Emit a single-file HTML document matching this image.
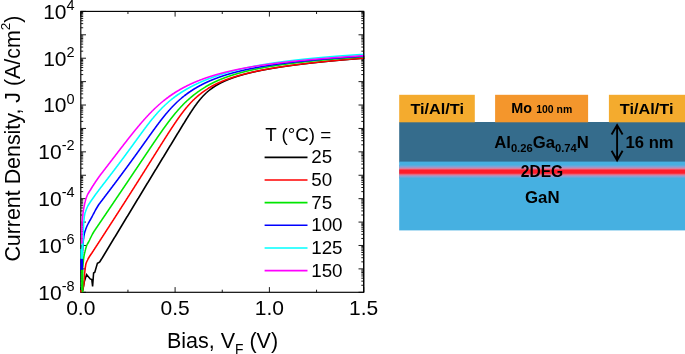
<!DOCTYPE html>
<html><head><meta charset="utf-8"><title>J-V</title>
<style>
html,body{margin:0;padding:0;background:#fff}
svg{display:block}
text{font-family:"Liberation Sans",sans-serif;fill:#000}
.b{font-weight:bold}
</style></head><body>
<svg width="685" height="354" viewBox="0 0 685 354">
<rect width="685" height="354" fill="#fff"/>
<g stroke="#000" stroke-width="1.15" fill="none">
<rect x="80.80" y="11.40" width="282.90" height="280.90"/>
</g>
<path d="M80.80 11.40h5.2M363.70 11.40h-5.2M80.80 27.76h2.4M363.70 27.76h-2.4M80.80 23.64h2.4M363.70 23.64h-2.4M80.80 20.72h2.4M363.70 20.72h-2.4M80.80 18.45h2.4M363.70 18.45h-2.4M80.80 16.59h2.4M363.70 16.59h-2.4M80.80 15.03h2.4M363.70 15.03h-2.4M80.80 13.67h2.4M363.70 13.67h-2.4M80.80 12.47h2.4M363.70 12.47h-2.4M80.80 34.81h5.2M363.70 34.81h-5.2M80.80 51.17h2.4M363.70 51.17h-2.4M80.80 47.05h2.4M363.70 47.05h-2.4M80.80 44.12h2.4M363.70 44.12h-2.4M80.80 41.85h2.4M363.70 41.85h-2.4M80.80 40.00h2.4M363.70 40.00h-2.4M80.80 38.43h2.4M363.70 38.43h-2.4M80.80 37.08h2.4M363.70 37.08h-2.4M80.80 35.88h2.4M363.70 35.88h-2.4M80.80 58.22h5.2M363.70 58.22h-5.2M80.80 74.58h2.4M363.70 74.58h-2.4M80.80 70.46h2.4M363.70 70.46h-2.4M80.80 67.53h2.4M363.70 67.53h-2.4M80.80 65.26h2.4M363.70 65.26h-2.4M80.80 63.41h2.4M363.70 63.41h-2.4M80.80 61.84h2.4M363.70 61.84h-2.4M80.80 60.49h2.4M363.70 60.49h-2.4M80.80 59.29h2.4M363.70 59.29h-2.4M80.80 81.63h5.2M363.70 81.63h-5.2M80.80 97.99h2.4M363.70 97.99h-2.4M80.80 93.86h2.4M363.70 93.86h-2.4M80.80 90.94h2.4M363.70 90.94h-2.4M80.80 88.67h2.4M363.70 88.67h-2.4M80.80 86.82h2.4M363.70 86.82h-2.4M80.80 85.25h2.4M363.70 85.25h-2.4M80.80 83.89h2.4M363.70 83.89h-2.4M80.80 82.70h2.4M363.70 82.70h-2.4M80.80 105.03h5.2M363.70 105.03h-5.2M80.80 121.40h2.4M363.70 121.40h-2.4M80.80 117.27h2.4M363.70 117.27h-2.4M80.80 114.35h2.4M363.70 114.35h-2.4M80.80 112.08h2.4M363.70 112.08h-2.4M80.80 110.23h2.4M363.70 110.23h-2.4M80.80 108.66h2.4M363.70 108.66h-2.4M80.80 107.30h2.4M363.70 107.30h-2.4M80.80 106.10h2.4M363.70 106.10h-2.4M80.80 128.44h5.2M363.70 128.44h-5.2M80.80 144.80h2.4M363.70 144.80h-2.4M80.80 140.68h2.4M363.70 140.68h-2.4M80.80 137.76h2.4M363.70 137.76h-2.4M80.80 135.49h2.4M363.70 135.49h-2.4M80.80 133.63h2.4M363.70 133.63h-2.4M80.80 132.07h2.4M363.70 132.07h-2.4M80.80 130.71h2.4M363.70 130.71h-2.4M80.80 129.51h2.4M363.70 129.51h-2.4M80.80 151.85h5.2M363.70 151.85h-5.2M80.80 168.21h2.4M363.70 168.21h-2.4M80.80 164.09h2.4M363.70 164.09h-2.4M80.80 161.17h2.4M363.70 161.17h-2.4M80.80 158.90h2.4M363.70 158.90h-2.4M80.80 157.04h2.4M363.70 157.04h-2.4M80.80 155.48h2.4M363.70 155.48h-2.4M80.80 154.12h2.4M363.70 154.12h-2.4M80.80 152.92h2.4M363.70 152.92h-2.4M80.80 175.26h5.2M363.70 175.26h-5.2M80.80 191.62h2.4M363.70 191.62h-2.4M80.80 187.50h2.4M363.70 187.50h-2.4M80.80 184.57h2.4M363.70 184.57h-2.4M80.80 182.30h2.4M363.70 182.30h-2.4M80.80 180.45h2.4M363.70 180.45h-2.4M80.80 178.88h2.4M363.70 178.88h-2.4M80.80 177.53h2.4M363.70 177.53h-2.4M80.80 176.33h2.4M363.70 176.33h-2.4M80.80 198.67h5.2M363.70 198.67h-5.2M80.80 215.03h2.4M363.70 215.03h-2.4M80.80 210.91h2.4M363.70 210.91h-2.4M80.80 207.98h2.4M363.70 207.98h-2.4M80.80 205.71h2.4M363.70 205.71h-2.4M80.80 203.86h2.4M363.70 203.86h-2.4M80.80 202.29h2.4M363.70 202.29h-2.4M80.80 200.94h2.4M363.70 200.94h-2.4M80.80 199.74h2.4M363.70 199.74h-2.4M80.80 222.08h5.2M363.70 222.08h-5.2M80.80 238.44h2.4M363.70 238.44h-2.4M80.80 234.31h2.4M363.70 234.31h-2.4M80.80 231.39h2.4M363.70 231.39h-2.4M80.80 229.12h2.4M363.70 229.12h-2.4M80.80 227.27h2.4M363.70 227.27h-2.4M80.80 225.70h2.4M363.70 225.70h-2.4M80.80 224.34h2.4M363.70 224.34h-2.4M80.80 223.15h2.4M363.70 223.15h-2.4M80.80 245.48h5.2M363.70 245.48h-5.2M80.80 261.85h2.4M363.70 261.85h-2.4M80.80 257.72h2.4M363.70 257.72h-2.4M80.80 254.80h2.4M363.70 254.80h-2.4M80.80 252.53h2.4M363.70 252.53h-2.4M80.80 250.68h2.4M363.70 250.68h-2.4M80.80 249.11h2.4M363.70 249.11h-2.4M80.80 247.75h2.4M363.70 247.75h-2.4M80.80 246.55h2.4M363.70 246.55h-2.4M80.80 268.89h5.2M363.70 268.89h-5.2M80.80 285.25h2.4M363.70 285.25h-2.4M80.80 281.13h2.4M363.70 281.13h-2.4M80.80 278.21h2.4M363.70 278.21h-2.4M80.80 275.94h2.4M363.70 275.94h-2.4M80.80 274.08h2.4M363.70 274.08h-2.4M80.80 272.52h2.4M363.70 272.52h-2.4M80.80 271.16h2.4M363.70 271.16h-2.4M80.80 269.96h2.4M363.70 269.96h-2.4M80.80 292.30h5.2M363.70 292.30h-5.2M80.80 292.30v-5.2M80.80 11.40v5.2M127.95 292.30v-2.6M127.95 11.40v2.6M175.10 292.30v-5.2M175.10 11.40v5.2M222.25 292.30v-2.6M222.25 11.40v2.6M269.40 292.30v-5.2M269.40 11.40v5.2M316.55 292.30v-2.6M316.55 11.40v2.6M363.70 292.30v-5.2M363.70 11.40v5.2" stroke="#000" stroke-width="0.9" fill="none"/>
<g fill="none" stroke-width="1.55" stroke-linejoin="round" stroke-linecap="butt" clip-path="url(#cp)">
<clipPath id="cp"><rect x="79.8" y="11.4" width="284.5" height="281.4"/></clipPath>
<path d="M82.6 291.0 L83.2 288.0 L84.2 282.0 L86.6 274.5 L90.2 278.9 L91.8 279.6 L92.6 286.4 L93.6 273.0 L94.8 272.2 L97.4 263.2 L98.9 262.5 L99.7 262.0 L100.0 261.5 L100.3 261.0 L100.6 260.5 L100.9 260.0 L101.2 259.5 L101.5 259.0 L101.9 258.5 L102.2 258.0 L102.5 257.5 L102.8 257.0 L103.1 256.5 L103.4 256.0 L103.7 255.5 L104.0 255.0 L104.3 254.5 L104.6 254.0 L104.9 253.5 L105.2 253.0 L105.5 252.5 L105.8 252.0 L106.1 251.5 L106.4 251.0 L106.7 250.5 L107.0 250.0 L107.3 249.5 L107.6 249.0 L107.9 248.5 L108.2 248.0 L108.5 247.5 L108.8 247.0 L109.1 246.5 L109.4 246.0 L109.7 245.5 L110.0 245.0 L110.3 244.5 L110.6 244.0 L110.9 243.5 L111.2 243.0 L111.5 242.5 L111.8 242.0 L112.1 241.5 L112.4 241.0 L112.7 240.5 L113.0 240.0 L113.3 239.5 L113.6 239.0 L113.9 238.5 L114.2 238.0 L114.5 237.5 L114.8 237.0 L115.2 236.5 L115.5 236.0 L115.8 235.5 L116.1 235.0 L116.4 234.5 L116.7 234.0 L117.0 233.5 L117.3 233.0 L117.6 232.5 L117.9 232.0 L118.2 231.5 L118.5 231.0 L118.8 230.5 L119.1 230.0 L119.4 229.5 L119.7 229.0 L120.0 228.5 L120.3 228.0 L120.6 227.5 L120.9 227.0 L121.2 226.5 L121.5 226.0 L121.8 225.5 L122.1 225.0 L122.4 224.5 L122.7 224.0 L123.0 223.5 L123.3 223.0 L123.6 222.5 L123.9 222.0 L124.2 221.5 L124.5 221.0 L124.8 220.5 L125.1 220.0 L125.4 219.5 L125.7 219.0 L126.0 218.5 L126.3 218.0 L126.6 217.5 L126.9 217.0 L127.2 216.5 L127.6 216.0 L127.9 215.5 L128.2 215.0 L128.5 214.5 L128.8 214.0 L129.1 213.5 L129.4 213.0 L129.7 212.5 L130.0 212.0 L130.3 211.5 L130.6 211.0 L130.9 210.5 L131.2 210.0 L131.5 209.5 L131.8 209.0 L132.1 208.5 L132.4 208.0 L132.7 207.5 L133.0 207.0 L133.3 206.5 L133.6 206.0 L133.9 205.5 L134.2 205.0 L134.5 204.5 L134.8 204.0 L135.1 203.5 L135.4 203.0 L135.7 202.5 L136.0 202.0 L136.3 201.5 L136.6 201.0 L136.9 200.5 L137.2 200.0 L137.5 199.5 L137.8 199.0 L138.1 198.5 L138.5 198.0 L138.8 197.5 L139.1 197.0 L139.4 196.5 L139.7 196.0 L140.0 195.5 L140.3 195.0 L140.6 194.5 L140.9 194.0 L141.2 193.5 L141.5 193.0 L141.8 192.5 L142.1 192.0 L142.4 191.5 L142.7 191.0 L143.0 190.5 L143.3 190.0 L143.6 189.5 L143.9 189.0 L144.2 188.5 L144.5 188.0 L144.8 187.5 L145.1 187.0 L145.4 186.5 L145.7 186.0 L146.0 185.5 L146.3 185.0 L146.6 184.5 L146.9 184.0 L147.2 183.5 L147.5 183.0 L147.9 182.5 L148.2 182.0 L148.5 181.5 L148.8 181.0 L149.1 180.5 L149.4 180.0 L149.7 179.5 L150.0 179.0 L150.3 178.5 L150.6 178.0 L150.9 177.5 L151.2 177.0 L151.5 176.5 L151.8 176.0 L152.1 175.5 L152.4 175.0 L152.7 174.5 L153.0 174.0 L153.3 173.5 L153.6 173.0 L153.9 172.5 L154.2 172.0 L154.5 171.5 L154.8 171.0 L155.1 170.5 L155.4 170.0 L155.7 169.5 L156.1 169.0 L156.4 168.5 L156.7 168.0 L157.0 167.5 L157.3 167.0 L157.6 166.5 L157.9 166.0 L158.2 165.5 L158.5 165.0 L158.8 164.5 L159.1 164.0 L159.4 163.5 L159.7 163.0 L160.0 162.5 L160.3 162.0 L160.6 161.5 L160.9 161.0 L161.2 160.5 L161.5 160.0 L161.8 159.5 L162.1 159.0 L162.4 158.5 L162.7 158.0 L163.0 157.5 L163.4 157.0 L163.7 156.5 L164.0 156.0 L164.3 155.5 L164.6 155.0 L164.9 154.5 L165.2 154.0 L165.5 153.5 L165.8 153.0 L166.1 152.5 L166.4 152.0 L166.7 151.5 L167.0 151.0 L167.3 150.5 L167.6 150.0 L167.9 149.5 L168.2 149.0 L168.5 148.5 L168.8 148.0 L169.1 147.5 L169.4 147.0 L169.7 146.5 L170.0 146.0 L170.3 145.5 L170.7 145.0 L171.0 144.5 L171.3 144.0 L171.6 143.5 L171.9 143.0 L172.2 142.5 L172.5 142.0 L172.8 141.5 L173.1 141.0 L173.4 140.5 L173.7 140.0 L174.0 139.5 L174.3 139.0 L174.6 138.5 L174.9 138.0 L175.2 137.5 L175.5 137.0 L175.8 136.5 L176.1 136.0 L176.4 135.5 L176.7 135.0 L177.0 134.5 L177.3 134.0 L177.6 133.5 L177.9 133.0 L178.3 132.5 L178.6 132.0 L178.9 131.5 L179.2 131.0 L179.5 130.5 L179.8 130.0 L180.1 129.5 L180.4 129.0 L180.7 128.5 L181.0 128.0 L181.3 127.5 L181.6 127.0 L181.9 126.5 L182.2 126.0 L182.5 125.5 L182.8 125.0 L183.1 124.5 L183.4 124.0 L183.7 123.5 L184.1 123.0 L184.4 122.5 L184.7 122.0 L185.0 121.5 L185.3 121.0 L185.6 120.5 L185.9 120.0 L186.2 119.5 L186.5 119.0 L186.8 118.5 L187.1 118.0 L187.5 117.5 L187.8 117.0 L188.1 116.5 L188.4 116.0 L188.7 115.5 L189.0 115.0 L189.4 114.5 L189.7 114.0 L190.0 113.5 L190.3 113.0 L190.6 112.5 L191.0 112.0 L191.3 111.5 L191.6 111.0 L192.0 110.5 L192.3 110.0 L192.6 109.5 L193.0 109.0 L193.3 108.5 L193.6 108.0 L194.0 107.5 L194.3 107.0 L194.7 106.5 L195.0 106.0 L195.4 105.5 L195.8 105.0 L196.1 104.5 L196.5 104.0 L196.9 103.5 L197.2 103.0 L197.6 102.5 L198.0 102.0 L198.4 101.5 L198.8 101.0 L199.2 100.5 L199.6 100.0 L200.0 99.5 L200.4 99.0 L200.9 98.5 L201.3 98.0 L201.7 97.5 L202.2 97.0 L202.6 96.5 L203.1 96.0 L203.6 95.5 L204.1 95.0 L204.6 94.5 L205.1 94.0 L205.6 93.5 L206.1 93.0 L206.7 92.5 L207.2 92.0 L207.8 91.5 L208.4 91.0 L209.0 90.5 L209.6 90.0 L210.3 89.5 L210.9 89.0 L211.6 88.5 L212.3 88.0 L213.0 87.5 L213.8 87.0 L214.5 86.5 L215.3 86.0 L216.1 85.5 L217.0 85.0 L217.9 84.5 L218.7 84.0 L219.7 83.5 L220.6 83.0 L221.6 82.5 L222.7 82.0 L223.7 81.5 L224.8 81.0 L226.0 80.5 L227.2 80.0 L228.4 79.5 L229.7 79.0 L231.0 78.5 L232.4 78.0 L233.8 77.5 L235.3 77.0 L236.8 76.5 L238.4 76.0 L240.1 75.5 L241.8 75.0 L243.6 74.5 L245.4 74.0 L247.4 73.5 L249.4 73.0 L251.5 72.5 L253.6 72.0 L255.9 71.5 L258.3 71.0 L260.7 70.5 L263.3 70.0 L265.9 69.5 L268.7 69.0 L271.5 68.5 L274.5 68.0 L277.6 67.5 L280.8 67.0 L284.2 66.5 L287.7 66.0 L291.3 65.5 L295.1 65.0 L299.0 64.5 L303.1 64.0 L307.4 63.5 L311.8 63.0 L316.4 62.5 L321.2 62.0 L326.2 61.5 L331.3 61.0 L336.7 60.5 L342.3 60.0 L348.1 59.5 L354.2 59.0 L360.4 58.5 L366.9 58.0" stroke="#000000" stroke-linejoin="miter" stroke-miterlimit="10"/>
<path d="M82.0 292.0 L82.3 291.0 L82.5 290.0 L82.8 289.0 L83.0 288.0 L83.3 287.0 L83.5 286.0 L83.7 285.0 L83.9 284.0 L84.0 283.0 L84.1 282.0 L84.2 281.0 L84.2 280.0 L84.3 279.0 L84.4 278.0 L84.4 277.0 L84.5 276.0 L84.5 275.0 L84.6 274.0 L84.7 273.0 L84.8 272.0 L84.9 271.0 L85.0 270.0 L85.1 269.0 L85.3 268.0 L85.4 267.0 L85.6 266.0 L85.7 265.0 L85.9 264.0 L86.2 263.0 L86.6 262.0 L87.1 261.0 L87.6 260.0 L88.0 259.0 L88.6 258.0 L89.2 257.0 L89.8 256.0 L90.5 255.0 L91.2 254.0 L91.9 253.0 L92.3 252.3 L92.7 251.8 L93.0 251.3 L93.3 250.8 L93.6 250.3 L94.0 249.8 L94.3 249.3 L94.6 248.8 L94.9 248.3 L95.3 247.8 L95.6 247.3 L95.9 246.8 L96.2 246.3 L96.6 245.8 L96.9 245.3 L97.2 244.8 L97.5 244.3 L97.9 243.8 L98.2 243.3 L98.5 242.8 L98.8 242.3 L99.2 241.8 L99.5 241.3 L99.8 240.8 L100.1 240.3 L100.5 239.8 L100.8 239.3 L101.1 238.8 L101.4 238.3 L101.8 237.8 L102.1 237.3 L102.4 236.8 L102.7 236.3 L103.1 235.8 L103.4 235.3 L103.7 234.8 L104.0 234.3 L104.4 233.8 L104.7 233.3 L105.0 232.8 L105.3 232.3 L105.6 231.8 L106.0 231.3 L106.3 230.8 L106.6 230.3 L106.9 229.8 L107.3 229.3 L107.6 228.8 L107.9 228.3 L108.2 227.8 L108.6 227.3 L108.9 226.8 L109.2 226.3 L109.5 225.8 L109.8 225.3 L110.2 224.8 L110.5 224.3 L110.8 223.8 L111.1 223.3 L111.5 222.8 L111.8 222.3 L112.1 221.8 L112.4 221.3 L112.8 220.8 L113.1 220.3 L113.4 219.8 L113.7 219.3 L114.0 218.8 L114.4 218.3 L114.7 217.8 L115.0 217.3 L115.3 216.8 L115.6 216.3 L116.0 215.8 L116.3 215.3 L116.6 214.8 L116.9 214.3 L117.3 213.8 L117.6 213.3 L117.9 212.8 L118.2 212.3 L118.5 211.8 L118.9 211.3 L119.2 210.8 L119.5 210.3 L119.8 209.8 L120.1 209.3 L120.5 208.8 L120.8 208.3 L121.1 207.8 L121.4 207.3 L121.7 206.8 L122.1 206.3 L122.4 205.8 L122.7 205.3 L123.0 204.8 L123.4 204.3 L123.7 203.8 L124.0 203.3 L124.3 202.8 L124.6 202.3 L125.0 201.8 L125.3 201.3 L125.6 200.8 L125.9 200.3 L126.2 199.8 L126.5 199.3 L126.9 198.8 L127.2 198.3 L127.5 197.8 L127.8 197.3 L128.1 196.8 L128.5 196.3 L128.8 195.8 L129.1 195.3 L129.4 194.8 L129.7 194.3 L130.1 193.8 L130.4 193.3 L130.7 192.8 L131.0 192.3 L131.3 191.8 L131.6 191.3 L132.0 190.8 L132.3 190.3 L132.6 189.8 L132.9 189.3 L133.2 188.8 L133.6 188.3 L133.9 187.8 L134.2 187.3 L134.5 186.8 L134.8 186.3 L135.1 185.8 L135.5 185.3 L135.8 184.8 L136.1 184.3 L136.4 183.8 L136.7 183.3 L137.0 182.8 L137.4 182.3 L137.7 181.8 L138.0 181.3 L138.3 180.8 L138.6 180.3 L138.9 179.8 L139.3 179.3 L139.6 178.8 L139.9 178.3 L140.2 177.8 L140.5 177.3 L140.8 176.8 L141.1 176.3 L141.5 175.8 L141.8 175.3 L142.1 174.8 L142.4 174.3 L142.7 173.8 L143.0 173.3 L143.4 172.8 L143.7 172.3 L144.0 171.8 L144.3 171.3 L144.6 170.8 L144.9 170.3 L145.2 169.8 L145.6 169.3 L145.9 168.8 L146.2 168.3 L146.5 167.8 L146.8 167.3 L147.1 166.8 L147.4 166.3 L147.8 165.8 L148.1 165.3 L148.4 164.8 L148.7 164.3 L149.0 163.8 L149.3 163.3 L149.6 162.8 L150.0 162.3 L150.3 161.8 L150.6 161.3 L150.9 160.8 L151.2 160.3 L151.5 159.8 L151.8 159.3 L152.1 158.8 L152.5 158.3 L152.8 157.8 L153.1 157.3 L153.4 156.8 L153.7 156.3 L154.0 155.8 L154.3 155.3 L154.7 154.8 L155.0 154.3 L155.3 153.8 L155.6 153.3 L155.9 152.8 L156.2 152.3 L156.5 151.8 L156.9 151.3 L157.2 150.8 L157.5 150.3 L157.8 149.8 L158.1 149.3 L158.4 148.8 L158.7 148.3 L159.1 147.8 L159.4 147.3 L159.7 146.8 L160.0 146.3 L160.3 145.8 L160.6 145.3 L160.9 144.8 L161.3 144.3 L161.6 143.8 L161.9 143.3 L162.2 142.8 L162.5 142.3 L162.8 141.8 L163.2 141.3 L163.5 140.8 L163.8 140.3 L164.1 139.8 L164.4 139.3 L164.7 138.8 L165.1 138.3 L165.4 137.8 L165.7 137.3 L166.0 136.8 L166.3 136.3 L166.7 135.8 L167.0 135.3 L167.3 134.8 L167.6 134.3 L167.9 133.8 L168.3 133.3 L168.6 132.8 L168.9 132.3 L169.2 131.8 L169.6 131.3 L169.9 130.8 L170.2 130.3 L170.5 129.8 L170.9 129.3 L171.2 128.8 L171.5 128.3 L171.9 127.8 L172.2 127.3 L172.5 126.8 L172.9 126.3 L173.2 125.8 L173.5 125.3 L173.9 124.8 L174.2 124.3 L174.5 123.8 L174.9 123.3 L175.2 122.8 L175.6 122.3 L175.9 121.8 L176.2 121.3 L176.6 120.8 L176.9 120.3 L177.3 119.8 L177.6 119.3 L178.0 118.8 L178.3 118.3 L178.7 117.8 L179.1 117.3 L179.4 116.8 L179.8 116.3 L180.1 115.8 L180.5 115.3 L180.9 114.8 L181.2 114.3 L181.6 113.8 L182.0 113.3 L182.4 112.8 L182.8 112.3 L183.1 111.8 L183.5 111.3 L183.9 110.8 L184.3 110.3 L184.7 109.8 L185.1 109.3 L185.5 108.8 L185.9 108.3 L186.3 107.8 L186.7 107.3 L187.2 106.8 L187.6 106.3 L188.0 105.8 L188.5 105.3 L188.9 104.8 L189.4 104.3 L189.8 103.8 L190.3 103.3 L190.7 102.8 L191.2 102.3 L191.7 101.8 L192.2 101.3 L192.6 100.8 L193.1 100.3 L193.6 99.8 L194.2 99.3 L194.7 98.8 L195.2 98.3 L195.8 97.8 L196.3 97.3 L196.9 96.8 L197.4 96.3 L198.0 95.8 L198.6 95.3 L199.2 94.8 L199.8 94.3 L200.5 93.8 L201.1 93.3 L201.7 92.8 L202.4 92.3 L203.1 91.8 L203.8 91.3 L204.5 90.8 L205.2 90.3 L206.0 89.8 L206.8 89.3 L207.5 88.8 L208.3 88.3 L209.2 87.8 L210.0 87.3 L210.9 86.8 L211.8 86.3 L212.7 85.8 L213.6 85.3 L214.6 84.8 L215.6 84.3 L216.6 83.8 L217.7 83.3 L218.8 82.8 L219.9 82.3 L221.1 81.8 L222.2 81.3 L223.5 80.8 L224.7 80.3 L226.0 79.8 L227.4 79.3 L228.8 78.8 L230.2 78.3 L231.7 77.8 L233.2 77.3 L234.8 76.8 L236.5 76.3 L238.2 75.8 L239.9 75.3 L241.7 74.8 L243.6 74.3 L245.6 73.8 L247.6 73.3 L249.7 72.8 L251.8 72.3 L254.1 71.8 L256.4 71.3 L258.8 70.8 L261.3 70.3 L264.0 69.8 L266.7 69.3 L269.5 68.8 L272.4 68.3 L275.4 67.8 L278.5 67.3 L281.8 66.8 L285.2 66.3 L288.7 65.8 L292.4 65.3 L296.2 64.8 L300.2 64.3 L304.3 63.8 L308.6 63.3 L313.1 62.8 L317.7 62.3 L322.6 61.8 L327.6 61.3 L332.9 60.8 L338.3 60.3 L344.0 59.8 L349.9 59.3 L356.1 58.8 L362.5 58.3 L369.2 57.8" stroke="#ff0000"/>
<path d="M82.3 292.0 L82.3 291.0 L82.3 290.0 L82.3 289.0 L82.3 288.0 L82.3 287.0 L82.3 286.0 L82.3 285.0 L82.3 284.0 L82.3 283.0 L82.3 282.0 L82.3 281.0 L82.3 280.0 L82.3 279.0 L82.3 278.0 L82.3 277.0 L82.3 276.0 L82.3 275.0 L82.3 274.0 L82.3 273.0 L82.3 272.0 L82.3 271.0 L82.4 270.0 L82.5 269.0 L82.6 268.0 L82.7 267.0 L82.9 266.0 L83.0 265.0 L83.1 264.0 L83.2 263.0 L83.3 262.0 L83.4 261.0 L83.5 260.0 L83.6 259.0 L83.7 258.0 L83.9 257.0 L84.0 256.0 L84.2 255.0 L84.4 254.0 L84.6 253.0 L84.9 252.0 L85.1 251.0 L85.4 250.0 L85.6 249.0 L85.9 248.0 L86.2 247.0 L86.5 246.0 L86.9 245.0 L87.4 244.0 L88.0 243.0 L88.6 242.0 L89.1 241.0 L89.6 240.0 L90.0 239.0 L90.5 238.0 L91.0 237.0 L91.5 236.0 L92.0 235.0 L92.5 234.0 L93.1 233.0 L93.7 232.0 L93.8 231.8 L94.1 231.3 L94.5 230.8 L94.8 230.3 L95.1 229.8 L95.5 229.3 L95.8 228.8 L96.1 228.3 L96.5 227.8 L96.8 227.3 L97.2 226.8 L97.5 226.3 L97.8 225.8 L98.2 225.3 L98.5 224.8 L98.9 224.3 L99.2 223.8 L99.5 223.3 L99.9 222.8 L100.2 222.3 L100.6 221.8 L100.9 221.3 L101.2 220.8 L101.6 220.3 L101.9 219.8 L102.2 219.3 L102.6 218.8 L102.9 218.3 L103.3 217.8 L103.6 217.3 L103.9 216.8 L104.3 216.3 L104.6 215.8 L105.0 215.3 L105.3 214.8 L105.6 214.3 L106.0 213.8 L106.3 213.3 L106.6 212.8 L107.0 212.3 L107.3 211.8 L107.7 211.3 L108.0 210.8 L108.3 210.3 L108.7 209.8 L109.0 209.3 L109.3 208.8 L109.7 208.3 L110.0 207.8 L110.4 207.3 L110.7 206.8 L111.0 206.3 L111.4 205.8 L111.7 205.3 L112.1 204.8 L112.4 204.3 L112.7 203.8 L113.1 203.3 L113.4 202.8 L113.7 202.3 L114.1 201.8 L114.4 201.3 L114.8 200.8 L115.1 200.3 L115.4 199.8 L115.8 199.3 L116.1 198.8 L116.4 198.3 L116.8 197.8 L117.1 197.3 L117.5 196.8 L117.8 196.3 L118.1 195.8 L118.5 195.3 L118.8 194.8 L119.1 194.3 L119.5 193.8 L119.8 193.3 L120.2 192.8 L120.5 192.3 L120.8 191.8 L121.2 191.3 L121.5 190.8 L121.8 190.3 L122.2 189.8 L122.5 189.3 L122.8 188.8 L123.2 188.3 L123.5 187.8 L123.9 187.3 L124.2 186.8 L124.5 186.3 L124.9 185.8 L125.2 185.3 L125.5 184.8 L125.9 184.3 L126.2 183.8 L126.6 183.3 L126.9 182.8 L127.2 182.3 L127.6 181.8 L127.9 181.3 L128.2 180.8 L128.6 180.3 L128.9 179.8 L129.2 179.3 L129.6 178.8 L129.9 178.3 L130.2 177.8 L130.6 177.3 L130.9 176.8 L131.3 176.3 L131.6 175.8 L131.9 175.3 L132.3 174.8 L132.6 174.3 L132.9 173.8 L133.3 173.3 L133.6 172.8 L133.9 172.3 L134.3 171.8 L134.6 171.3 L134.9 170.8 L135.3 170.3 L135.6 169.8 L136.0 169.3 L136.3 168.8 L136.6 168.3 L137.0 167.8 L137.3 167.3 L137.6 166.8 L138.0 166.3 L138.3 165.8 L138.6 165.3 L139.0 164.8 L139.3 164.3 L139.6 163.8 L140.0 163.3 L140.3 162.8 L140.6 162.3 L141.0 161.8 L141.3 161.3 L141.6 160.8 L142.0 160.3 L142.3 159.8 L142.7 159.3 L143.0 158.8 L143.3 158.3 L143.7 157.8 L144.0 157.3 L144.3 156.8 L144.7 156.3 L145.0 155.8 L145.3 155.3 L145.7 154.8 L146.0 154.3 L146.3 153.8 L146.7 153.3 L147.0 152.8 L147.4 152.3 L147.7 151.8 L148.0 151.3 L148.4 150.8 L148.7 150.3 L149.0 149.8 L149.4 149.3 L149.7 148.8 L150.0 148.3 L150.4 147.8 L150.7 147.3 L151.1 146.8 L151.4 146.3 L151.7 145.8 L152.1 145.3 L152.4 144.8 L152.8 144.3 L153.1 143.8 L153.4 143.3 L153.8 142.8 L154.1 142.3 L154.5 141.8 L154.8 141.3 L155.1 140.8 L155.5 140.3 L155.8 139.8 L156.2 139.3 L156.5 138.8 L156.8 138.3 L157.2 137.8 L157.5 137.3 L157.9 136.8 L158.2 136.3 L158.6 135.8 L158.9 135.3 L159.3 134.8 L159.6 134.3 L160.0 133.8 L160.3 133.3 L160.7 132.8 L161.0 132.3 L161.4 131.8 L161.7 131.3 L162.1 130.8 L162.4 130.3 L162.8 129.8 L163.1 129.3 L163.5 128.8 L163.8 128.3 L164.2 127.8 L164.6 127.3 L164.9 126.8 L165.3 126.3 L165.7 125.8 L166.0 125.3 L166.4 124.8 L166.8 124.3 L167.1 123.8 L167.5 123.3 L167.9 122.8 L168.2 122.3 L168.6 121.8 L169.0 121.3 L169.4 120.8 L169.8 120.3 L170.1 119.8 L170.5 119.3 L170.9 118.8 L171.3 118.3 L171.7 117.8 L172.1 117.3 L172.5 116.8 L172.9 116.3 L173.3 115.8 L173.7 115.3 L174.1 114.8 L174.5 114.3 L174.9 113.8 L175.3 113.3 L175.7 112.8 L176.2 112.3 L176.6 111.8 L177.0 111.3 L177.5 110.8 L177.9 110.3 L178.3 109.8 L178.8 109.3 L179.2 108.8 L179.7 108.3 L180.1 107.8 L180.6 107.3 L181.0 106.8 L181.5 106.3 L182.0 105.8 L182.5 105.3 L182.9 104.8 L183.4 104.3 L183.9 103.8 L184.4 103.3 L184.9 102.8 L185.4 102.3 L185.9 101.8 L186.5 101.3 L187.0 100.8 L187.5 100.3 L188.1 99.8 L188.6 99.3 L189.2 98.8 L189.8 98.3 L190.3 97.8 L190.9 97.3 L191.5 96.8 L192.1 96.3 L192.7 95.8 L193.3 95.3 L193.9 94.8 L194.6 94.3 L195.2 93.8 L195.9 93.3 L196.6 92.8 L197.2 92.3 L197.9 91.8 L198.6 91.3 L199.4 90.8 L200.1 90.3 L200.8 89.8 L201.6 89.3 L202.4 88.8 L203.2 88.3 L204.0 87.8 L204.8 87.3 L205.6 86.8 L206.5 86.3 L207.4 85.8 L208.3 85.3 L209.2 84.8 L210.1 84.3 L211.1 83.8 L212.1 83.3 L213.1 82.8 L214.1 82.3 L215.2 81.8 L216.3 81.3 L217.4 80.8 L218.5 80.3 L219.7 79.8 L220.9 79.3 L222.2 78.8 L223.5 78.3 L224.8 77.8 L226.2 77.3 L227.6 76.8 L229.0 76.3 L230.5 75.8 L232.1 75.3 L233.6 74.8 L235.3 74.3 L237.0 73.8 L238.8 73.3 L240.6 72.8 L242.5 72.3 L244.4 71.8 L246.5 71.3 L248.6 70.8 L250.8 70.3 L253.1 69.8 L255.4 69.3 L257.9 68.8 L260.4 68.3 L263.1 67.8 L265.9 67.3 L268.8 66.8 L271.8 66.3 L275.0 65.8 L278.3 65.3 L281.7 64.8 L285.3 64.3 L289.1 63.8 L293.0 63.3 L297.1 62.8 L301.4 62.3 L305.9 61.8 L310.7 61.3 L315.7 60.8 L320.9 60.3 L326.3 59.8 L332.1 59.3 L338.1 58.8 L344.5 58.3 L351.2 57.8 L358.2 57.3 L365.6 56.8" stroke="#00e600"/>
<path d="M81.7 269.0 L81.7 268.0 L81.8 267.0 L81.8 266.0 L81.8 265.0 L81.9 264.0 L81.9 263.0 L82.0 262.0 L82.0 261.0 L82.0 260.0 L82.1 259.0 L82.1 258.0 L82.2 257.0 L82.2 256.0 L82.3 255.0 L82.4 254.0 L82.4 253.0 L82.5 252.0 L82.5 251.0 L82.6 250.0 L82.7 249.0 L82.7 248.0 L82.8 247.0 L82.9 246.0 L83.0 245.0 L83.1 244.0 L83.2 243.0 L83.2 242.0 L83.3 241.0 L83.4 240.0 L83.5 239.0 L83.7 238.0 L83.8 237.0 L83.9 236.0 L84.1 235.0 L84.3 234.0 L84.5 233.0 L84.8 232.0 L85.1 231.0 L85.5 230.0 L85.8 229.0 L86.2 228.0 L86.6 227.0 L87.0 226.0 L87.5 225.0 L88.0 224.0 L88.5 223.0 L89.1 222.0 L89.6 221.0 L90.2 220.0 L90.8 219.0 L91.3 218.0 L91.9 217.0 L92.4 216.0 L92.9 215.0 L93.4 214.0 L94.0 213.0 L94.5 212.0 L95.0 211.0 L95.5 210.0 L96.1 209.0 L96.7 208.0 L97.3 207.0 L97.9 206.0 L98.5 205.0 L98.8 204.5 L99.2 204.0 L99.6 203.5 L100.0 203.0 L100.3 202.5 L100.7 202.0 L101.1 201.5 L101.5 201.0 L101.9 200.5 L102.3 200.0 L102.6 199.5 L103.0 199.0 L103.4 198.5 L103.8 198.0 L104.2 197.5 L104.5 197.0 L104.9 196.5 L105.3 196.0 L105.7 195.5 L106.0 195.0 L106.4 194.5 L106.8 194.0 L107.2 193.5 L107.6 193.0 L107.9 192.5 L108.3 192.0 L108.7 191.5 L109.1 191.0 L109.5 190.5 L109.8 190.0 L110.2 189.5 L110.6 189.0 L111.0 188.5 L111.3 188.0 L111.7 187.5 L112.1 187.0 L112.5 186.5 L112.8 186.0 L113.2 185.5 L113.6 185.0 L114.0 184.5 L114.4 184.0 L114.7 183.5 L115.1 183.0 L115.5 182.5 L115.9 182.0 L116.2 181.5 L116.6 181.0 L117.0 180.5 L117.4 180.0 L117.7 179.5 L118.1 179.0 L118.5 178.5 L118.8 178.0 L119.2 177.5 L119.6 177.0 L120.0 176.5 L120.3 176.0 L120.7 175.5 L121.1 175.0 L121.5 174.5 L121.8 174.0 L122.2 173.5 L122.6 173.0 L122.9 172.5 L123.3 172.0 L123.7 171.5 L124.0 171.0 L124.4 170.5 L124.8 170.0 L125.2 169.5 L125.5 169.0 L125.9 168.5 L126.3 168.0 L126.6 167.5 L127.0 167.0 L127.4 166.5 L127.7 166.0 L128.1 165.5 L128.5 165.0 L128.8 164.5 L129.2 164.0 L129.6 163.5 L129.9 163.0 L130.3 162.5 L130.7 162.0 L131.0 161.5 L131.4 161.0 L131.7 160.5 L132.1 160.0 L132.5 159.5 L132.8 159.0 L133.2 158.5 L133.6 158.0 L133.9 157.5 L134.3 157.0 L134.7 156.5 L135.0 156.0 L135.4 155.5 L135.7 155.0 L136.1 154.5 L136.5 154.0 L136.8 153.5 L137.2 153.0 L137.5 152.5 L137.9 152.0 L138.3 151.5 L138.6 151.0 L139.0 150.5 L139.3 150.0 L139.7 149.5 L140.0 149.0 L140.4 148.5 L140.8 148.0 L141.1 147.5 L141.5 147.0 L141.8 146.5 L142.2 146.0 L142.6 145.5 L142.9 145.0 L143.3 144.5 L143.6 144.0 L144.0 143.5 L144.3 143.0 L144.7 142.5 L145.0 142.0 L145.4 141.5 L145.8 141.0 L146.1 140.5 L146.5 140.0 L146.8 139.5 L147.2 139.0 L147.5 138.5 L147.9 138.0 L148.3 137.5 L148.6 137.0 L149.0 136.5 L149.3 136.0 L149.7 135.5 L150.0 135.0 L150.4 134.5 L150.8 134.0 L151.1 133.5 L151.5 133.0 L151.8 132.5 L152.2 132.0 L152.6 131.5 L152.9 131.0 L153.3 130.5 L153.6 130.0 L154.0 129.5 L154.4 129.0 L154.7 128.5 L155.1 128.0 L155.5 127.5 L155.8 127.0 L156.2 126.5 L156.6 126.0 L156.9 125.5 L157.3 125.0 L157.7 124.5 L158.1 124.0 L158.4 123.5 L158.8 123.0 L159.2 122.5 L159.6 122.0 L160.0 121.5 L160.3 121.0 L160.7 120.5 L161.1 120.0 L161.5 119.5 L161.9 119.0 L162.3 118.5 L162.7 118.0 L163.1 117.5 L163.5 117.0 L163.9 116.5 L164.3 116.0 L164.7 115.5 L165.1 115.0 L165.5 114.5 L165.9 114.0 L166.3 113.5 L166.8 113.0 L167.2 112.5 L167.6 112.0 L168.1 111.5 L168.5 111.0 L168.9 110.5 L169.4 110.0 L169.8 109.5 L170.3 109.0 L170.7 108.5 L171.2 108.0 L171.7 107.5 L172.1 107.0 L172.6 106.5 L173.1 106.0 L173.6 105.5 L174.1 105.0 L174.6 104.5 L175.1 104.0 L175.6 103.5 L176.1 103.0 L176.6 102.5 L177.1 102.0 L177.7 101.5 L178.2 101.0 L178.8 100.5 L179.3 100.0 L179.9 99.5 L180.5 99.0 L181.1 98.5 L181.6 98.0 L182.2 97.5 L182.9 97.0 L183.5 96.5 L184.1 96.0 L184.7 95.5 L185.4 95.0 L186.1 94.5 L186.7 94.0 L187.4 93.5 L188.1 93.0 L188.8 92.5 L189.5 92.0 L190.3 91.5 L191.0 91.0 L191.8 90.5 L192.5 90.0 L193.3 89.5 L194.1 89.0 L194.9 88.5 L195.8 88.0 L196.6 87.5 L197.5 87.0 L198.4 86.5 L199.3 86.0 L200.2 85.5 L201.2 85.0 L202.1 84.5 L203.1 84.0 L204.1 83.5 L205.1 83.0 L206.2 82.5 L207.3 82.0 L208.4 81.5 L209.5 81.0 L210.7 80.5 L211.9 80.0 L213.1 79.5 L214.4 79.0 L215.6 78.5 L217.0 78.0 L218.3 77.5 L219.7 77.0 L221.2 76.5 L222.6 76.0 L224.2 75.5 L225.7 75.0 L227.4 74.5 L229.0 74.0 L230.8 73.5 L232.5 73.0 L234.4 72.5 L236.3 72.0 L238.2 71.5 L240.3 71.0 L242.4 70.5 L244.6 70.0 L246.9 69.5 L249.2 69.0 L251.7 68.5 L254.2 68.0 L256.9 67.5 L259.6 67.0 L262.5 66.5 L265.5 66.0 L268.6 65.5 L271.9 65.0 L275.3 64.5 L278.9 64.0 L282.6 63.5 L286.5 63.0 L290.6 62.5 L294.9 62.0 L299.4 61.5 L304.1 61.0 L309.1 60.5 L314.3 60.0 L319.8 59.5 L325.6 59.0 L331.7 58.5 L338.1 58.0 L344.9 57.5 L352.0 57.0 L359.5 56.5 L367.5 56.0" stroke="#0000ff"/>
<path d="M81.7 258.0 L81.7 257.0 L81.8 256.0 L81.8 255.0 L81.9 254.0 L81.9 253.0 L82.0 252.0 L82.1 251.0 L82.2 250.0 L82.3 249.0 L82.5 248.0 L82.7 247.0 L82.8 246.0 L82.9 245.0 L83.0 244.0 L83.0 243.0 L83.0 242.0 L83.1 241.0 L83.1 240.0 L83.1 239.0 L83.2 238.0 L83.2 237.0 L83.2 236.0 L83.2 235.0 L83.3 234.0 L83.3 233.0 L83.3 232.0 L83.4 231.0 L83.4 230.0 L83.4 229.0 L83.5 228.0 L83.5 227.0 L83.6 226.0 L83.6 225.0 L83.7 224.0 L83.8 223.0 L83.8 222.0 L83.9 221.0 L84.0 220.0 L84.1 219.0 L84.2 218.0 L84.3 217.0 L84.4 216.0 L84.6 215.0 L84.8 214.0 L85.0 213.0 L85.4 212.0 L85.7 211.0 L86.1 210.0 L86.5 209.0 L86.9 208.0 L87.3 207.0 L87.8 206.0 L88.4 205.0 L89.0 204.0 L89.7 203.0 L90.3 202.0 L91.0 201.0 L91.7 200.0 L92.4 199.0 L93.1 198.0 L93.8 197.0 L94.5 196.0 L95.2 195.0 L95.9 194.0 L96.7 193.0 L97.4 192.0 L98.2 191.0 L98.9 190.0 L99.7 189.0 L100.4 188.0 L100.8 187.5 L101.2 187.0 L101.6 186.5 L102.0 186.0 L102.4 185.5 L102.7 185.0 L103.1 184.5 L103.5 184.0 L103.9 183.5 L104.3 183.0 L104.7 182.5 L105.1 182.0 L105.5 181.5 L105.8 181.0 L106.2 180.5 L106.6 180.0 L107.0 179.5 L107.4 179.0 L107.8 178.5 L108.1 178.0 L108.5 177.5 L108.9 177.0 L109.3 176.5 L109.7 176.0 L110.1 175.5 L110.4 175.0 L110.8 174.5 L111.2 174.0 L111.6 173.5 L112.0 173.0 L112.4 172.5 L112.7 172.0 L113.1 171.5 L113.5 171.0 L113.9 170.5 L114.3 170.0 L114.6 169.5 L115.0 169.0 L115.4 168.5 L115.8 168.0 L116.1 167.5 L116.5 167.0 L116.9 166.5 L117.3 166.0 L117.7 165.5 L118.0 165.0 L118.4 164.5 L118.8 164.0 L119.2 163.5 L119.5 163.0 L119.9 162.5 L120.3 162.0 L120.7 161.5 L121.0 161.0 L121.4 160.5 L121.8 160.0 L122.1 159.5 L122.5 159.0 L122.9 158.5 L123.3 158.0 L123.6 157.5 L124.0 157.0 L124.4 156.5 L124.7 156.0 L125.1 155.5 L125.5 155.0 L125.8 154.5 L126.2 154.0 L126.6 153.5 L126.9 153.0 L127.3 152.5 L127.7 152.0 L128.0 151.5 L128.4 151.0 L128.8 150.5 L129.1 150.0 L129.5 149.5 L129.9 149.0 L130.2 148.5 L130.6 148.0 L131.0 147.5 L131.3 147.0 L131.7 146.5 L132.1 146.0 L132.4 145.5 L132.8 145.0 L133.2 144.5 L133.5 144.0 L133.9 143.5 L134.2 143.0 L134.6 142.5 L135.0 142.0 L135.3 141.5 L135.7 141.0 L136.1 140.5 L136.4 140.0 L136.8 139.5 L137.1 139.0 L137.5 138.5 L137.9 138.0 L138.2 137.5 L138.6 137.0 L139.0 136.5 L139.3 136.0 L139.7 135.5 L140.1 135.0 L140.4 134.5 L140.8 134.0 L141.2 133.5 L141.5 133.0 L141.9 132.5 L142.3 132.0 L142.6 131.5 L143.0 131.0 L143.4 130.5 L143.7 130.0 L144.1 129.5 L144.5 129.0 L144.9 128.5 L145.2 128.0 L145.6 127.5 L146.0 127.0 L146.4 126.5 L146.7 126.0 L147.1 125.5 L147.5 125.0 L147.9 124.5 L148.3 124.0 L148.7 123.5 L149.1 123.0 L149.4 122.5 L149.8 122.0 L150.2 121.5 L150.6 121.0 L151.0 120.5 L151.4 120.0 L151.8 119.5 L152.2 119.0 L152.6 118.5 L153.1 118.0 L153.5 117.5 L153.9 117.0 L154.3 116.5 L154.7 116.0 L155.2 115.5 L155.6 115.0 L156.0 114.5 L156.5 114.0 L156.9 113.5 L157.3 113.0 L157.8 112.5 L158.2 112.0 L158.7 111.5 L159.2 111.0 L159.6 110.5 L160.1 110.0 L160.6 109.5 L161.1 109.0 L161.5 108.5 L162.0 108.0 L162.5 107.5 L163.0 107.0 L163.6 106.5 L164.1 106.0 L164.6 105.5 L165.1 105.0 L165.7 104.5 L166.2 104.0 L166.8 103.5 L167.3 103.0 L167.9 102.5 L168.4 102.0 L169.0 101.5 L169.6 101.0 L170.2 100.5 L170.8 100.0 L171.4 99.5 L172.1 99.0 L172.7 98.5 L173.3 98.0 L174.0 97.5 L174.7 97.0 L175.3 96.5 L176.0 96.0 L176.7 95.5 L177.4 95.0 L178.1 94.5 L178.9 94.0 L179.6 93.5 L180.4 93.0 L181.1 92.5 L181.9 92.0 L182.7 91.5 L183.5 91.0 L184.4 90.5 L185.2 90.0 L186.0 89.5 L186.9 89.0 L187.8 88.5 L188.7 88.0 L189.6 87.5 L190.5 87.0 L191.5 86.5 L192.5 86.0 L193.4 85.5 L194.4 85.0 L195.5 84.5 L196.5 84.0 L197.6 83.5 L198.6 83.0 L199.8 82.5 L200.9 82.0 L202.0 81.5 L203.2 81.0 L204.4 80.5 L205.6 80.0 L206.9 79.5 L208.1 79.0 L209.4 78.5 L210.8 78.0 L212.1 77.5 L213.5 77.0 L214.9 76.5 L216.4 76.0 L217.9 75.5 L219.4 75.0 L221.0 74.5 L222.6 74.0 L224.2 73.5 L225.9 73.0 L227.6 72.5 L229.4 72.0 L231.3 71.5 L233.1 71.0 L235.1 70.5 L237.1 70.0 L239.1 69.5 L241.2 69.0 L243.4 68.5 L245.7 68.0 L248.0 67.5 L250.4 67.0 L253.0 66.5 L255.5 66.0 L258.2 65.5 L261.0 65.0 L263.9 64.5 L267.0 64.0 L270.1 63.5 L273.4 63.0 L276.8 62.5 L280.4 62.0 L284.1 61.5 L288.0 61.0 L292.1 60.5 L296.3 60.0 L300.8 59.5 L305.5 59.0 L310.5 58.5 L315.6 58.0 L321.1 57.5 L326.9 57.0 L332.9 56.5 L339.3 56.0 L346.1 55.5 L353.2 55.0 L360.8 54.5 L368.8 54.0" stroke="#00ffff"/>
<path d="M81.9 244.0 L81.9 243.0 L81.9 242.0 L81.9 241.0 L81.9 240.0 L81.9 239.0 L81.9 238.0 L81.9 237.0 L81.9 236.0 L81.9 235.0 L81.9 234.0 L81.9 233.0 L81.9 232.0 L81.9 231.0 L81.9 230.0 L81.9 229.0 L81.9 228.0 L81.9 227.0 L81.9 226.0 L81.9 225.0 L82.0 224.0 L82.0 223.0 L82.1 222.0 L82.2 221.0 L82.3 220.0 L82.4 219.0 L82.5 218.0 L82.6 217.0 L82.7 216.0 L82.8 215.0 L82.9 214.0 L83.0 213.0 L83.2 212.0 L83.3 211.0 L83.5 210.0 L83.6 209.0 L83.8 208.0 L84.0 207.0 L84.2 206.0 L84.4 205.0 L84.6 204.0 L84.8 203.0 L85.1 202.0 L85.3 201.0 L85.6 200.0 L85.9 199.0 L86.2 198.0 L86.6 197.0 L87.0 196.0 L87.4 195.0 L87.9 194.0 L88.5 193.0 L89.1 192.0 L89.7 191.0 L90.4 190.0 L91.0 189.0 L91.6 188.0 L92.2 187.0 L92.8 186.0 L93.5 185.0 L94.1 184.0 L94.8 183.0 L95.4 182.0 L96.1 181.0 L96.8 180.0 L97.5 179.0 L98.2 178.0 L98.9 177.0 L99.6 176.0 L100.0 175.5 L100.3 175.0 L100.7 174.5 L101.1 174.0 L101.5 173.5 L101.9 173.0 L102.3 172.5 L102.7 172.0 L103.0 171.5 L103.4 171.0 L103.8 170.5 L104.2 170.0 L104.6 169.5 L105.0 169.0 L105.3 168.5 L105.7 168.0 L106.1 167.5 L106.5 167.0 L106.9 166.5 L107.3 166.0 L107.7 165.5 L108.0 165.0 L108.4 164.5 L108.8 164.0 L109.2 163.5 L109.6 163.0 L110.0 162.5 L110.3 162.0 L110.7 161.5 L111.1 161.0 L111.5 160.5 L111.9 160.0 L112.3 159.5 L112.6 159.0 L113.0 158.5 L113.4 158.0 L113.8 157.5 L114.2 157.0 L114.6 156.5 L115.0 156.0 L115.3 155.5 L115.7 155.0 L116.1 154.5 L116.5 154.0 L116.9 153.5 L117.3 153.0 L117.6 152.5 L118.0 152.0 L118.4 151.5 L118.8 151.0 L119.2 150.5 L119.6 150.0 L120.0 149.5 L120.3 149.0 L120.7 148.5 L121.1 148.0 L121.5 147.5 L121.9 147.0 L122.3 146.5 L122.7 146.0 L123.1 145.5 L123.4 145.0 L123.8 144.5 L124.2 144.0 L124.6 143.5 L125.0 143.0 L125.4 142.5 L125.8 142.0 L126.2 141.5 L126.6 141.0 L126.9 140.5 L127.3 140.0 L127.7 139.5 L128.1 139.0 L128.5 138.5 L128.9 138.0 L129.3 137.5 L129.7 137.0 L130.1 136.5 L130.5 136.0 L130.9 135.5 L131.3 135.0 L131.7 134.5 L132.1 134.0 L132.5 133.5 L132.9 133.0 L133.3 132.5 L133.7 132.0 L134.1 131.5 L134.5 131.0 L134.9 130.5 L135.3 130.0 L135.7 129.5 L136.1 129.0 L136.6 128.5 L137.0 128.0 L137.4 127.5 L137.8 127.0 L138.2 126.5 L138.6 126.0 L139.1 125.5 L139.5 125.0 L139.9 124.5 L140.3 124.0 L140.7 123.5 L141.2 123.0 L141.6 122.5 L142.0 122.0 L142.5 121.5 L142.9 121.0 L143.4 120.5 L143.8 120.0 L144.2 119.5 L144.7 119.0 L145.1 118.5 L145.6 118.0 L146.0 117.5 L146.5 117.0 L147.0 116.5 L147.4 116.0 L147.9 115.5 L148.4 115.0 L148.8 114.5 L149.3 114.0 L149.8 113.5 L150.3 113.0 L150.8 112.5 L151.3 112.0 L151.7 111.5 L152.2 111.0 L152.8 110.5 L153.3 110.0 L153.8 109.5 L154.3 109.0 L154.8 108.5 L155.3 108.0 L155.9 107.5 L156.4 107.0 L157.0 106.5 L157.5 106.0 L158.1 105.5 L158.6 105.0 L159.2 104.5 L159.8 104.0 L160.3 103.5 L160.9 103.0 L161.5 102.5 L162.1 102.0 L162.7 101.5 L163.3 101.0 L163.9 100.5 L164.6 100.0 L165.2 99.5 L165.9 99.0 L166.5 98.5 L167.2 98.0 L167.9 97.5 L168.5 97.0 L169.2 96.5 L169.9 96.0 L170.6 95.5 L171.4 95.0 L172.1 94.5 L172.8 94.0 L173.6 93.5 L174.4 93.0 L175.1 92.5 L175.9 92.0 L176.7 91.5 L177.6 91.0 L178.4 90.5 L179.3 90.0 L180.1 89.5 L181.0 89.0 L181.9 88.5 L182.8 88.0 L183.7 87.5 L184.7 87.0 L185.7 86.5 L186.6 86.0 L187.6 85.5 L188.7 85.0 L189.7 84.5 L190.8 84.0 L191.9 83.5 L193.0 83.0 L194.1 82.5 L195.3 82.0 L196.5 81.5 L197.7 81.0 L199.0 80.5 L200.2 80.0 L201.6 79.5 L202.9 79.0 L204.3 78.5 L205.7 78.0 L207.2 77.5 L208.7 77.0 L210.2 76.5 L211.8 76.0 L213.4 75.5 L215.1 75.0 L216.8 74.5 L218.6 74.0 L220.4 73.5 L222.3 73.0 L224.2 72.5 L226.2 72.0 L228.3 71.5 L230.4 71.0 L232.7 70.5 L235.0 70.0 L237.3 69.5 L239.8 69.0 L242.4 68.5 L245.0 68.0 L247.8 67.5 L250.7 67.0 L253.6 66.5 L256.7 66.0 L260.0 65.5 L263.3 65.0 L266.8 64.5 L270.5 64.0 L274.3 63.5 L278.3 63.0 L282.5 62.5 L286.8 62.0 L291.4 61.5 L296.2 61.0 L301.2 60.5 L306.4 60.0 L311.9 59.5 L317.7 59.0 L323.8 58.5 L330.1 58.0 L336.8 57.5 L343.8 57.0 L351.2 56.5 L359.0 56.0 L367.2 55.5" stroke="#ff00ff"/>
</g>
<rect x="81.2" y="269.8" width="2.2" height="22.4" fill="#00e600"/>
<rect x="80.4" y="258.8" width="2.7" height="11" fill="#0000ff"/>
<rect x="80.4" y="249" width="2.7" height="9.8" fill="#00ffff"/><rect x="81.4" y="243.6" width="1.7" height="5.6" fill="#00ffff"/>
<rect x="80.3" y="290" width="1.2" height="2.5" fill="#ff0000"/>
<path d="M363.70 11.40V292.30" stroke="#000" stroke-width="1.15"/>
<text x="74.6" y="18.7" text-anchor="end" font-size="21">10<tspan font-size="14.5" dy="-8.8">4</tspan></text>
<text x="74.6" y="65.5" text-anchor="end" font-size="21">10<tspan font-size="14.5" dy="-8.8">2</tspan></text>
<text x="74.6" y="112.3" text-anchor="end" font-size="21">10<tspan font-size="14.5" dy="-8.8">0</tspan></text>
<text x="74.6" y="159.2" text-anchor="end" font-size="21">10<tspan font-size="14.5" dy="-8.8">-2</tspan></text>
<text x="74.6" y="206.0" text-anchor="end" font-size="21">10<tspan font-size="14.5" dy="-8.8">-4</tspan></text>
<text x="74.6" y="252.8" text-anchor="end" font-size="21">10<tspan font-size="14.5" dy="-8.8">-6</tspan></text>
<text x="74.6" y="299.6" text-anchor="end" font-size="21">10<tspan font-size="14.5" dy="-8.8">-8</tspan></text>
<text x="80.8" y="314.9" text-anchor="middle" font-size="21">0.0</text>
<text x="175.1" y="314.9" text-anchor="middle" font-size="21">0.5</text>
<text x="269.4" y="314.9" text-anchor="middle" font-size="21">1.0</text>
<text x="363.7" y="314.9" text-anchor="middle" font-size="21">1.5</text>
<text x="222.5" y="347.6" text-anchor="middle" font-size="21.5">Bias, V<tspan font-size="13.8" dy="6">F</tspan><tspan dy="-6"> (V)</tspan></text>
<text transform="translate(20.4 138.6) rotate(-90)" text-anchor="middle" font-size="21.4">Current Density, J (A/cm<tspan font-size="13.5" dy="-10.5">2</tspan><tspan dy="10.5">)</tspan></text>
<text x="265.2" y="140.6" font-size="18.8">T (°C) =</text>
<path d="M264.6 157.35H307.5" stroke="#000000" stroke-width="1.6"/>
<text x="311.2" y="163.4" font-size="18.8">25</text>
<path d="M264.6 180.00H307.5" stroke="#ff0000" stroke-width="1.6"/>
<text x="311.2" y="186.1" font-size="18.8">50</text>
<path d="M264.6 202.65H307.5" stroke="#00e600" stroke-width="1.6"/>
<text x="311.2" y="208.7" font-size="18.8">75</text>
<path d="M264.6 225.30H307.5" stroke="#0000ff" stroke-width="1.6"/>
<text x="311.2" y="231.4" font-size="18.8">100</text>
<path d="M264.6 247.95H307.5" stroke="#00ffff" stroke-width="1.6"/>
<text x="311.2" y="254.0" font-size="18.8">125</text>
<path d="M264.6 270.60H307.5" stroke="#ff00ff" stroke-width="1.6"/>
<text x="311.2" y="276.7" font-size="18.8">150</text>
<rect x="399.2" y="122.0" width="286" height="40.45" fill="#356c8c"/>
<rect x="399.2" y="161.6" width="286" height="68.8" fill="#46b0e1"/>
<defs><linearGradient id="rg" x1="0" y1="0" x2="0" y2="1"><stop offset="0.000" stop-color="#46b0e1"/><stop offset="0.162" stop-color="#8f9fd4"/><stop offset="0.272" stop-color="#d4809f"/><stop offset="0.346" stop-color="#f4485c"/><stop offset="0.404" stop-color="#ff1c2a"/><stop offset="0.610" stop-color="#ff1c2a"/><stop offset="0.669" stop-color="#f4485c"/><stop offset="0.743" stop-color="#d4809f"/><stop offset="0.846" stop-color="#8f9fd4"/><stop offset="1.000" stop-color="#46b0e1"/></linearGradient></defs>
<rect x="399.2" y="164.8" width="286" height="13.6" fill="url(#rg)"/>
<rect x="399.2" y="94.8" width="75.6" height="27.5" fill="#f4ab2e"/>
<rect x="495.1" y="94.8" width="93" height="27.5" fill="#f4962c"/>
<rect x="608.9" y="94.8" width="77" height="27.5" fill="#f4ab2e"/>
<text class="b" x="410.4" y="113.6" font-size="14" textLength="53.6" lengthAdjust="spacingAndGlyphs">Ti/Al/Ti</text>
<text class="b" x="619.8" y="113.6" font-size="14" textLength="53.6" lengthAdjust="spacingAndGlyphs">Ti/Al/Ti</text>
<text class="b" x="511.2" y="113.1" font-size="14" textLength="20.8" lengthAdjust="spacingAndGlyphs">Mo</text>
<text class="b" x="536.2" y="113.1" font-size="10.2" textLength="36" lengthAdjust="spacingAndGlyphs">100 nm</text>
<text class="b" x="494.2" y="148.1" font-size="16.7">Al<tspan font-size="11.2" dy="3.9">0.26</tspan><tspan dy="-3.9">Ga</tspan><tspan font-size="11.2" dy="3.9">0.74</tspan><tspan dy="-3.9">N</tspan></text>
<text class="b" x="625.6" y="148" font-size="16.6">16 nm</text>
<text class="b" x="542" y="176.5" text-anchor="middle" font-size="15.6">2DEG</text>
<text class="b" x="542.3" y="203.4" text-anchor="middle" font-size="16.8">GaN</text>
<path d="M617.1 124.6V160.8M611.6 134.6L617.1 125.1L622.6 134.6M611.6 150.8L617.1 160.3L622.6 150.8" stroke="#000" stroke-width="1.9" fill="none" stroke-linejoin="miter"/>
</svg></body></html>
